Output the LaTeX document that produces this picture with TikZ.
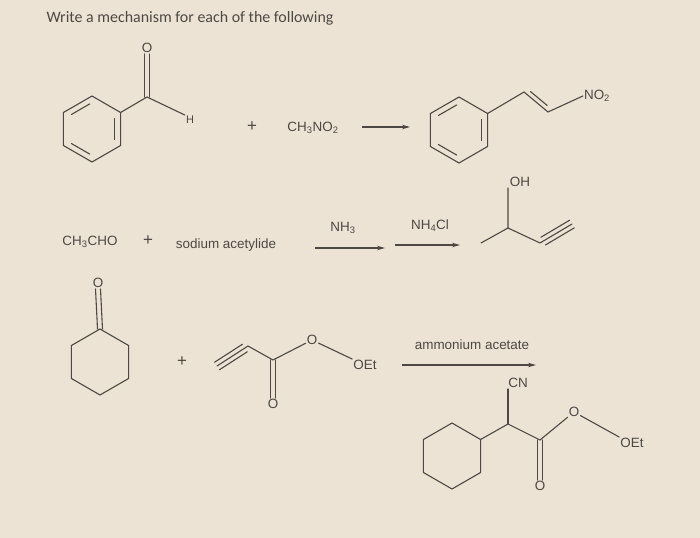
\documentclass[tikz,border=0pt]{standalone}
\usepackage{fontspec}
\setmainfont{Liberation Sans}
\newfontfamily\titlefont{Carlito}
\usetikzlibrary{arrows.meta,calc}
\definecolor{paper}{RGB}{236,227,213}
\definecolor{ink}{RGB}{78,72,68}
\tikzset{
  bond/.style={draw=ink,line width=1.1pt,line cap=round},
  lbl/.style={text=ink,font=\fontsize{13.5}{13.5}\selectfont,inner sep=1pt},
  plus/.style={text=ink,font=\fontsize{17}{17}\selectfont,inner sep=1pt},
  rxn/.style={draw=ink,line width=1.1pt,-{Stealth[length=8pt,width=4.5pt]}},
}
\newcommand{\hexring}[3]{% center x, y, prefix
  \coordinate (#3c) at (#1,#2);
  \foreach \a/\k in {90/1,30/2,-30/3,-90/4,-150/5,150/6}{\coordinate (#3\k) at ([shift={(-\a:33)}]#1,#2);}
  \draw[bond] (#31)--(#32)--(#33)--(#34)--(#35)--(#36)--cycle;}
\newcommand{\innerb}[3]{\draw[bond] ($(#1c)!0.8!(#1#2)!0.12!(#1c)!0.8!(#1#3)$) -- ($(#1c)!0.8!(#1#3)!0.12!(#1c)!0.8!(#1#2)$);}
\newcommand{\inb}[3]{\draw[bond] ($ (#1c)!0.8!($(#1#2)!0.1!(#1#3)$) $) -- ($ (#1c)!0.8!($(#1#3)!0.1!(#1#2)$) $);}
\begin{document}
\begin{tikzpicture}[x=1bp,y=-1bp]
\fill[paper] (0,0) rectangle (700,538);
\useasboundingbox (0,0) rectangle (700,538);
\node[text=ink,font=\titlefont\fontsize{16}{16}\selectfont,anchor=west] (title) at (43,18) {Write a mechanism for each of the following};
% ---- row 1: benzaldehyde
\hexring{92}{129}{a}
\inb{a}{1}{6} \inb{a}{2}{3} \inb{a}{4}{5}
\coordinate (ac) at (147,97);
\node[lbl] (ao) at (147,48) {O};
\node[lbl,font=\fontsize{11}{11}\selectfont] (ah) at (190,120) {H};
\draw[bond] (a2) -- (ac) -- (ah.north west);
\draw[bond] ([xshift=-2.5]ac) -- ([xshift=-2.5]ao.south);
\draw[bond] ([xshift=2.5]ac) -- ([xshift=2.5]ao.south);
\node[plus] (p1) at (252,127) {+};
\node[lbl] (nm) at (313,128) {CH\textsubscript{3}NO\textsubscript{2}};
\coordinate (r1a) at (362,127); \coordinate (r1b) at (410,127);
\draw[rxn] (r1a) -- (r1b);
% product 1
\hexring{459}{130}{b}
\inb{b}{1}{6} \inb{b}{2}{3} \inb{b}{4}{5}
\coordinate (b7) at (524,92); \coordinate (b8) at (548,112);
\node[lbl] (no) at (597,96) {NO\textsubscript{2}};
\draw[bond] (b2) -- (b7) -- (b8) -- (no.west);
\draw[bond] ($(b7)!0.15!(b8)!4.5pt!90:(b8)$) -- ($(b8)!0.15!(b7)!4.5pt!-90:(b7)$);
% ---- row 2
\node[lbl] (ald) at (90,242) {CH\textsubscript{3}CHO};
\node[plus] (p2) at (148,241) {+};
\node[lbl] (na) at (226,245) {sodium acetylide};
\node[lbl] (nh3) at (343,228) {NH\textsubscript{3}};
\coordinate (r2a) at (315,248); \coordinate (r2b) at (385,248);
\draw[rxn] (r2a) -- (r2b);
\node[lbl] (nh4) at (430,226) {NH\textsubscript{4}Cl};
\coordinate (r3a) at (395,245); \coordinate (r3b) at (460,245);
\draw[rxn] (r3a) -- (r3b);
\node[lbl] (oh) at (520,182) {OH};
\coordinate (c1) at (508,228); \coordinate (c2) at (481,243);
\coordinate (c3) at (540,243); \coordinate (c4) at (572,224);
\draw[bond] (oh.south -| c1) -- (c1) -- (c2);
\draw[bond] (c1) -- (c3) -- (c4);
\draw[bond] ($(c3)!0.1!(c4)!4.5pt!90:(c4)$) -- ($(c4)!0!(c3)!4.5pt!-90:(c3)$);
\draw[bond] ($(c3)!0.1!(c4)!4.5pt!-90:(c4)$) -- ($(c4)!0!(c3)!4.5pt!90:(c3)$);
% ---- row 3: cyclohexanone
\hexring{100}{362}{d}
\node[lbl] (do) at (98,283) {O};
\draw[bond] ([xshift=-2.5]d1) -- ([xshift=-2.5]do.south);
\draw[bond] ([xshift=2.5]d1) -- ([xshift=2.5]do.south);
\node[plus] (p3) at (182,362) {+};
% ethyl propiolate
\coordinate (e1) at (217,366); \coordinate (e2) at (248,346); \coordinate (e3) at (273,360);
\node[lbl] (eo2) at (273,404) {O};
\node[lbl] (eo1) at (312,340) {O};
\node[lbl] (eet) at (365,365) {OEt};
\draw[bond] (e1) -- (e2) -- (e3) -- (eo1) -- (eet.north west);
\draw[bond] ($(e1)!0!(e2)!4.5pt!90:(e2)$) -- ($(e2)!0.1!(e1)!4.5pt!-90:(e1)$);
\draw[bond] ($(e1)!0!(e2)!4.5pt!-90:(e2)$) -- ($(e2)!0.1!(e1)!4.5pt!90:(e1)$);
\draw[bond] ([xshift=-2.5]e3) -- ([xshift=-2.5]eo2.north);
\draw[bond] ([xshift=2.5]e3) -- ([xshift=2.5]eo2.north);
\node[lbl] (am) at (472,345) {ammonium acetate};
\coordinate (r4a) at (402,365); \coordinate (r4b) at (536,365);
\draw[rxn] (r4a) -- (r4b);
% product 3
\hexring{452}{456}{f}
\node[lbl] (cn) at (518,383) {CN};
\coordinate (f7) at (508,424); \coordinate (f8) at (540,440);
\node[lbl] (fo2) at (540,486) {O};
\node[lbl] (fo1) at (574,412) {O};
\node[lbl] (fet) at (632,443) {OEt};
\draw[bond] (f2) -- (f7) -- (f8) -- (fo1) -- (fet.north west);
\draw[bond] (f7) -- (cn.south -| f7);
\draw[bond] ([xshift=-2.5]f8) -- ([xshift=-2.5]fo2.north);
\draw[bond] ([xshift=2.5]f8) -- ([xshift=2.5]fo2.north);
\end{tikzpicture}
\end{document}
